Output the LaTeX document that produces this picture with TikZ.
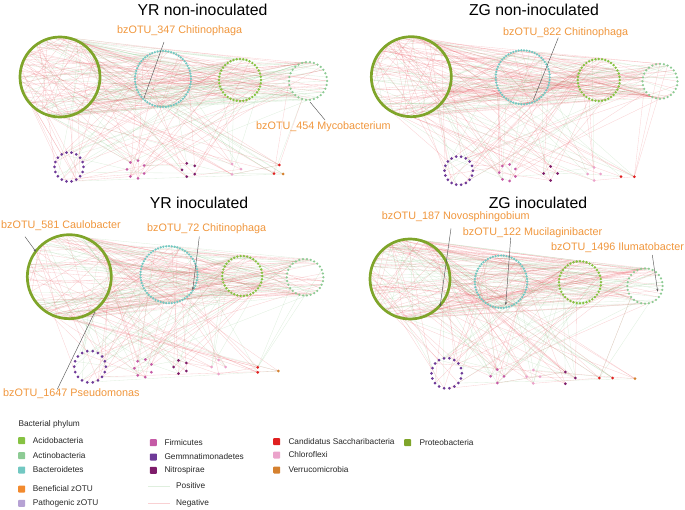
\documentclass[tikz,border=0pt]{standalone}
\usepackage{fontspec}
\setmainfont{Liberation Sans}
\usetikzlibrary{arrows.meta}
\definecolor{proteo}{HTML}{7FA52A}
\definecolor{acido}{HTML}{86C242}
\definecolor{actino}{HTML}{8DCB94}
\definecolor{bactero}{HTML}{72C8C2}
\definecolor{benef}{HTML}{F28A2E}
\definecolor{patho}{HTML}{B6A2D4}
\definecolor{firmi}{HTML}{C55AA6}
\definecolor{gemma}{HTML}{6E3A98}
\definecolor{nitro}{HTML}{7E1C6A}
\definecolor{candid}{HTML}{E02020}
\definecolor{chloro}{HTML}{EBA3CB}
\definecolor{verru}{HTML}{D5812F}
\definecolor{lblorange}{HTML}{F0963C}
\definecolor{negc}{HTML}{E8545C}
\definecolor{posc}{HTML}{6DB86B}
\tikzset{
  negl/.style={draw=negc, draw opacity=0.27, line width=0.33pt},
  posl/.style={draw=posc, draw opacity=0.22, line width=0.33pt},
  ttl/.style={font=\fontsize{15.8}{18}\selectfont, anchor=base, inner sep=0pt},
  lbl/.style={text=lblorange, font=\fontsize{10.8}{12}\selectfont, anchor=west, inner sep=0pt},
  leader/.style={draw=black!65, line width=0.45pt},
  legtxt/.style={font=\fontsize{8.3}{10}\selectfont, anchor=west, inner sep=0pt, text=black!85},
  legsq/.style={minimum size=7pt, inner sep=0pt, rounded corners=0.8pt},
  bigc/.style={circle, draw=proteo, line width=2.7pt, inner sep=0pt},
}
\newcommand\setn[2]{\expandafter\xdef\csname n#1\endcsname{#2}}
\newcommand\mkpts[6]{%
  \setn{#1}{#5}%
  \foreach \i in {1,...,#5}{%
    \pgfmathsetmacro\ang{#6+\i*(360/#5)}%
    \coordinate (#1-\i) at ({#2+#4*cos(\ang)},{#3+#4*sin(\ang)});%
  }}
\newcommand\ringdots[3]{%
  \pgfmathtruncatemacro\nn{\csname n#1\endcsname}%
  \foreach \i in {1,...,\nn}{\fill[#2] (#1-\i) circle[radius=#3];}}
\newcommand\redges[4]{%
  \foreach \k in {1,...,#3}{%
    \pgfmathtruncatemacro\ia{random(1,\csname n#1\endcsname)}%
    \pgfmathtruncatemacro\ib{random(1,\csname n#2\endcsname)}%
    \pgfmathtruncatemacro\cc{random(1,100)}%
    \ifnum\cc>#4\relax\draw[negl] (#1-\ia) -- (#2-\ib);\else\draw[posl] (#1-\ia) -- (#2-\ib);\fi
  }}
\newcommand\netedges[1]{%
  \redges{#1P}{#1B}{45}{35}%
  \redges{#1P}{#1A}{35}{35}%
  \redges{#1P}{#1C}{35}{35}%
  \redges{#1P}{#1P}{35}{30}%
  \redges{#1B}{#1A}{18}{40}%
  \redges{#1B}{#1C}{18}{40}%
  \redges{#1A}{#1C}{8}{40}%
  \redges{#1B}{#1B}{6}{40}%
  \redges{#1P}{#1G}{12}{35}%
  \redges{#1P}{#1F}{8}{35}%
  \redges{#1P}{#1N}{6}{35}%
  \redges{#1P}{#1X}{5}{35}%
  \redges{#1P}{#1S}{4}{30}%
  \redges{#1B}{#1G}{7}{40}%
  \redges{#1B}{#1F}{6}{40}%
  \redges{#1B}{#1N}{4}{40}%
  \redges{#1B}{#1X}{3}{40}%
  \redges{#1B}{#1S}{3}{40}%
  \redges{#1A}{#1G}{4}{50}%
  \redges{#1A}{#1F}{4}{50}%
  \redges{#1A}{#1N}{3}{50}%
  \redges{#1A}{#1X}{3}{50}%
  \redges{#1C}{#1G}{3}{50}%
  \redges{#1C}{#1F}{3}{50}%
  \redges{#1C}{#1S}{3}{50}%
  \redges{#1G}{#1F}{4}{40}%
  \redges{#1F}{#1N}{2}{40}%
  \redges{#1N}{#1X}{2}{40}%
  \redges{#1X}{#1S}{2}{40}%
  \ifcsname n#1V\endcsname\redges{#1P}{#1V}{3}{30}\redges{#1G}{#1V}{2}{40}\fi
}
\newcommand\netdots[1]{%
  \ringdots{#1B}{bactero}{1.25}%
  \ringdots{#1A}{acido}{1.35}%
  \ringdots{#1C}{actino}{1.25}%
  \ringdots{#1G}{gemma}{1.5}%
  \ringdots{#1F}{firmi}{1.5}%
  \ringdots{#1N}{nitro}{1.5}%
  \ringdots{#1X}{chloro}{1.5}%
  \ringdots{#1S}{candid}{1.5}%
  \ifcsname n#1V\endcsname\ringdots{#1V}{verru}{1.5}\fi
}
\begin{document}
\begin{tikzpicture}[x=1pt,y=-1pt]
\useasboundingbox (0,0) rectangle (685,510);
\pgfmathsetseed{12345}
% ---------- panel a: YR non-inoculated
\mkpts{aP}{60}{77}{40}{80}{0}
\mkpts{aB}{163}{79}{28}{64}{0}
\mkpts{aA}{240}{80}{21}{40}{0}
\mkpts{aC}{308}{81}{19}{30}{0}
\mkpts{aG}{69}{167}{14.5}{18}{0}
\mkpts{aF}{136}{169.5}{9}{7}{180}
\mkpts{aN}{189}{170}{7}{5}{180}
\mkpts{aX}{235}{169.2}{6}{3}{0}
\setn{aS}{2}\coordinate (aS-1) at (279.3,165);\coordinate (aS-2) at (274,173.7);
\setn{aV}{1}\coordinate (aV-1) at (283,174);
% ---------- panel b: ZG non-inoculated
\mkpts{bP}{411.3}{76.7}{40}{80}{0}
\mkpts{bB}{522.7}{77.3}{27}{62}{0}
\mkpts{bA}{598.7}{80}{21}{40}{0}
\mkpts{bC}{660}{81.3}{17.5}{28}{0}
\mkpts{bG}{458.7}{170.7}{14.2}{18}{0}
\mkpts{bF}{507.7}{172.7}{8.5}{7}{180}
\mkpts{bN}{550.7}{173.5}{7}{4}{0}
\mkpts{bX}{594}{174}{6.5}{4}{0}
\setn{bS}{2}\coordinate (bS-1) at (621,176.7);\coordinate (bS-2) at (634.3,176.7);
% ---------- panel c: YR inoculated
\mkpts{cP}{69.3}{276.7}{42}{84}{0}
\mkpts{cB}{169}{274.7}{28.5}{64}{0}
\mkpts{cA}{242.3}{276}{20}{38}{0}
\mkpts{cC}{305}{277.3}{18.3}{30}{0}
\mkpts{cG}{90}{366.7}{15.8}{18}{0}
\mkpts{cF}{143.3}{368.3}{9}{7}{180}
\mkpts{cN}{180.7}{367}{7}{5}{180}
\mkpts{cX}{218.7}{367}{7}{4}{0}
\setn{cS}{2}\coordinate (cS-1) at (257.7,367.3);\coordinate (cS-2) at (257.7,372.3);
\setn{cV}{1}\coordinate (cV-1) at (278.3,371);
% ---------- panel d: ZG inoculated
\mkpts{dP}{410}{279}{40}{80}{0}
\mkpts{dB}{501}{281.7}{26.2}{60}{0}
\mkpts{dA}{580}{282.3}{21}{40}{0}
\mkpts{dC}{645}{286}{17.7}{28}{0}
\mkpts{dG}{446.7}{373.3}{15.2}{18}{0}
\mkpts{dF}{497.3}{376.3}{6.7}{4}{0}
\mkpts{dX}{533.3}{376.7}{6.7}{4}{0}
\setn{dN}{3}\coordinate (dN-1) at (565.3,372);\coordinate (dN-2) at (575.3,378);\coordinate (dN-3) at (565.3,383.7);
\setn{dS}{2}\coordinate (dS-1) at (599.3,378);\coordinate (dS-2) at (612.7,378);
\setn{dV}{1}\coordinate (dV-1) at (635,378.7);
% ---------- edges
\netedges{a}
\netedges{b}
\netedges{c}
\netedges{d}
% ---------- big circles and dots
\node[bigc, minimum size=80pt] (aPc) at (60,77) {};
\node[bigc, minimum size=80pt] (bPc) at (411.3,76.7) {};
\node[bigc, minimum size=84pt] (cPc) at (69.3,276.7) {};
\node[bigc, minimum size=80pt] (dPc) at (410,279) {};
\netdots{a}
\netdots{b}
\netdots{c}
\netdots{d}
% ---------- titles
\node[ttl] (ta) at (202.5,16) {YR non-inoculated};
\node[ttl] (tb) at (534,16) {ZG non-inoculated};
\node[ttl] (tc) at (199,208.3) {YR inoculated};
\node[ttl] (td) at (538,208.3) {ZG inoculated};
% ---------- labels and leaders
\node[lbl] (la1) at (117,31) {bzOTU\_347 Chitinophaga};
\coordinate (la1s) at (164,42); \coordinate (la1e) at (144,98);
\draw[leader] (la1s) -- (la1e);
\node[lbl] (la2) at (256,127) {bzOTU\_454 Mycobacterium};
\coordinate (la2s) at (310,102); \coordinate (la2e) at (325,120);
\draw[leader] (la2s) -- (la2e);
\node[lbl] (lb1) at (503,32.7) {bzOTU\_822 Chitinophaga};
\coordinate (lb1s) at (558.3,37.7); \coordinate (lb1e) at (533.3,100);
\draw[leader] (lb1s) -- (lb1e);
\node[lbl] (lc1) at (1,226) {bzOTU\_581 Caulobacter};
\coordinate (lc1s) at (25,236.7); \coordinate (lc1e) at (36,251.7);
\draw[leader,-{Stealth[length=3pt,width=2.2pt]}] (lc1s) -- (lc1e);
\node[lbl] (lc2) at (147,229) {bzOTU\_72 Chitinophaga};
\coordinate (lc2s) at (199.3,236.7); \coordinate (lc2e) at (192.7,290);
\draw[leader,-{Stealth[length=3pt,width=2.2pt]}] (lc2s) -- (lc2e);
\node[lbl] (lc3) at (3,394) {bzOTU\_1647 Pseudomonas};
\coordinate (lc3s) at (57.3,389.3); \coordinate (lc3e) at (95,311.7);
\draw[leader] (lc3s) -- (lc3e);
\node[lbl] (ld1) at (381.7,216.7) {bzOTU\_187 Novosphingobium};
\coordinate (ld1s) at (451,228.3); \coordinate (ld1e) at (440,306.7);
\draw[leader,-{Stealth[length=3pt,width=2.2pt]}] (ld1s) -- (ld1e);
\node[lbl] (ld2) at (462.7,232.7) {bzOTU\_122 Mucilaginibacter};
\coordinate (ld2s) at (510.7,237.7); \coordinate (ld2e) at (505.7,305);
\draw[leader,-{Stealth[length=3pt,width=2.2pt]}] (ld2s) -- (ld2e);
\node[lbl] (ld3) at (551,247.7) {bzOTU\_1496 Ilumatobacter};
\coordinate (ld3s) at (652.3,255); \coordinate (ld3e) at (657.7,291.7);
\draw[leader,-{Stealth[length=3pt,width=2.2pt]}] (ld3s) -- (ld3e);
% ---------- legend
\node[legtxt] (lgh) at (18.3,424.3) {Bacterial phylum};
\node[legsq, fill=acido] (q1) at (21.7,440.7) {};
\node[legtxt] (t1) at (32.7,440.7) {Acidobacteria};
\node[legsq, fill=actino] (q2) at (21.7,455.7) {};
\node[legtxt] (t2) at (32.7,455.7) {Actinobacteria};
\node[legsq, fill=bactero] (q3) at (21.7,470) {};
\node[legtxt] (t3) at (32.7,470) {Bacteroidetes};
\node[legsq, fill=benef] (q4) at (21.7,489) {};
\node[legtxt] (t4) at (32.7,489) {Beneficial zOTU};
\node[legsq, fill=patho] (q5) at (21.7,503.3) {};
\node[legtxt] (t5) at (32.7,503.3) {Pathogenic zOTU};
\node[legsq, fill=firmi] (q6) at (153.3,442.7) {};
\node[legtxt] (t6) at (164.3,442.7) {Firmicutes};
\node[legsq, fill=gemma] (q7) at (153.3,457) {};
\node[legtxt] (t7) at (164.3,457) {Gemmnatimonadetes};
\node[legsq, fill=nitro] (q8) at (153.3,470.3) {};
\node[legtxt] (t8) at (164.3,470.3) {Nitrospirae};
\coordinate (lp1) at (148,485.7); \coordinate (lp2) at (170,485.7);
\draw[posl] (lp1) -- (lp2);
\node[legtxt] (t9) at (176,485.7) {Positive};
\coordinate (ln1) at (148,503.3); \coordinate (ln2) at (170,503.3);
\draw[negl] (ln1) -- (ln2);
\node[legtxt] (t10) at (176,503.3) {Negative};
\node[legsq, fill=candid] (q11) at (276.7,441.7) {};
\node[legtxt] (t11) at (288.3,441.7) {Candidatus Saccharibacteria};
\node[legsq, fill=chloro] (q12) at (276.7,455) {};
\node[legtxt] (t12) at (288.3,455) {Chloroflexi};
\node[legsq, fill=verru] (q13) at (276.7,470) {};
\node[legtxt] (t13) at (288.3,470) {Verrucomicrobia};
\node[legsq, fill=proteo] (q14) at (407.7,442.7) {};
\node[legtxt] (t14) at (419.3,442.7) {Proteobacteria};
\end{tikzpicture}
\end{document}
